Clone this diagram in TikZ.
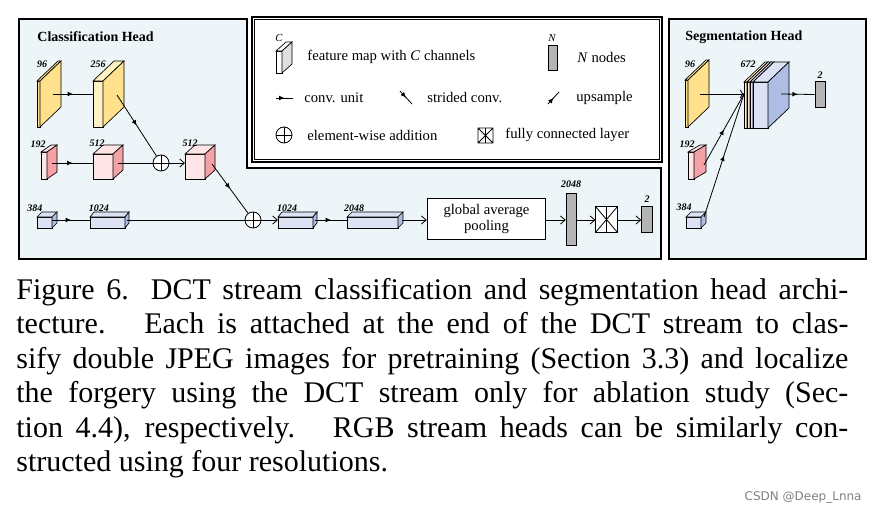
\documentclass[tikz,border=0pt]{standalone}
\usepackage{fontspec}
\setmainfont{Liberation Serif}
\newfontfamily\capfont{Liberation Serif}
\newfontfamily\wmfont{DejaVu Sans}
\usetikzlibrary{arrows.meta,decorations.markings}
\definecolor{panel}{HTML}{EDF5F8}
\definecolor{yF}{HTML}{FFF2C2}\definecolor{yS}{HTML}{FFE08C}
\definecolor{pF}{HTML}{FFE5E5}\definecolor{pS}{HTML}{F4A2A8}
\definecolor{bF}{HTML}{DCE2F4}\definecolor{bS}{HTML}{AEBDE3}
\definecolor{gbar}{HTML}{B4B4B4}
\tikzset{
 midtip/.style={decoration={markings,mark=at position 0.5 with {\arrow{Latex[length=4pt,width=3.6pt]}}},postaction={decorate}},
 opentip/.style={-{Straight Barb[length=3.5pt,width=6pt]}},
 lbl/.style={font=\bfseries\itshape\fontsize{7.5}{8}\selectfont,inner sep=0pt},
 leg/.style={font=\fontsize{11}{12}\selectfont,anchor=west,inner sep=0pt},
 ttl/.style={font=\bfseries\fontsize{10.5}{12}\selectfont,anchor=west,inner sep=0pt},
 captxt/.style={font=\capfont\fontsize{22.5}{26}\selectfont,anchor=base west,inner sep=0pt},
 plus/.style={circle,draw,minimum size=12pt,inner sep=0pt,fill=white,path picture={\draw (path picture bounding box.north)--(path picture bounding box.south) (path picture bounding box.west)--(path picture bounding box.east);}},
}
% cube: x y(top of front) w h dx dy front side
\newcommand{\mycube}[8]{%
 \filldraw[fill=#7,line width=0.5pt] (#1,#2) rectangle ({#1+#3},{#2+#4});
 \filldraw[fill=#7,line width=0.5pt] (#1,#2) -- ({#1+#5},{#2-#6}) -- ({#1+#3+#5},{#2-#6}) -- ({#1+#3},#2) -- cycle;
 \filldraw[fill=#8,line width=0.5pt] ({#1+#3},#2) -- ({#1+#3+#5},{#2-#6}) -- ({#1+#3+#5},{#2+#4-#6}) -- ({#1+#3},{#2+#4}) -- cycle;}
\begin{document}
\begin{tikzpicture}[x=0.75pt,y=-0.75pt,line width=0.6pt]
\useasboundingbox (0,0) rectangle (876,514);
% panels
\filldraw[fill=panel,line width=0.9pt] (19,19)--(247,19)--(247,168)--(661,168)--(661,259)--(19,259)--cycle;
\filldraw[fill=panel,line width=0.9pt] (669,19) rectangle (866,259);
\filldraw[fill=white,line width=0.9pt] (252,17) rectangle (662,162);
\draw[line width=0.9pt] (254.5,19.5) rectangle (659.5,159.5);
\node[ttl] (t1) at (37,37) {Classification Head};
\node[ttl] (t2) at (685,37) {Segmentation Head};
% legend
\mycube{276}{51}{6}{22}{10}{9}{white}{gray!25}
\node[lbl,font=\itshape\fontsize{8}{9}\selectfont] (lc) at (279,38) {C};
\node[leg] (l1) at (307,57) {feature map with \textit{C} channels};
\filldraw[fill=gbar] (548,45) rectangle (557,70);
\node[lbl,font=\itshape\fontsize{8}{9}\selectfont] (ln) at (552,38) {N};
\node[leg] (l2) at (577,57) {\textit{N} nodes};
\coordinate (a1) at (276,98); \coordinate (a2) at (293,98);
\draw[midtip] (a1)--(a2);
\node[leg] (l3) at (304,98) {conv. unit};
\coordinate (b1) at (400,91); \coordinate (b2) at (412,104);
\draw[midtip] (b1)--(b2);
\node[leg] (l4) at (427,98) {strided conv.};
\coordinate (c1) at (548,104); \coordinate (c2) at (559,92);
\draw[midtip] (c1)--(c2);
\node[leg] (l5) at (576,98) {upsample};
\node[plus] (lp) at (284,135) {};
\node[leg] (l6) at (307,135) {element-wise addition};
\draw (478,128) rectangle (493,143) (478,128)--(493,143) (478,143)--(493,128) (485.5,128)--(485.5,143);
\node[leg] (l7) at (505,135) {fully connected layer};
% classification cubes
\mycube{37}{81}{3}{46}{21}{20}{yS}{yS}
\mycube{93}{81}{10}{46}{21}{20}{yF}{yS}
\mycube{41}{152}{6}{27}{10}{7}{pF}{pS}
\mycube{93}{154}{20}{25}{10}{9}{pF}{pS}
\mycube{185}{154}{20}{25}{10}{9}{pF}{pS}
\mycube{37}{217}{15}{11}{5}{5}{bF}{bS}
\mycube{90}{217}{35}{11}{4}{5}{bF}{bS}
\mycube{278}{217}{35}{11}{4}{5}{bF}{bS}
\mycube{347}{217}{51}{11}{5}{5}{bF}{bS}
\node[lbl] at (42,64) {96};
\node[lbl] at (98,64) {256};
\node[lbl] at (38,144) {192};
\node[lbl] at (97,143) {512};
\node[lbl] at (190,143) {512};
\node[lbl] at (35,208) {384};
\node[lbl] at (99,208) {1024};
\node[lbl] at (287,208) {1024};
\node[lbl] at (354,208) {2048};
\node[lbl] at (571,184) {2048};
\node[lbl] at (647,199) {2};
\node[plus] (p1) at (161,163) {};
\node[plus] (p2) at (253,220) {};
\node[draw,fill=white,minimum width=89pt,minimum height=31pt,align=center,font=\fontsize{11}{12}\selectfont,inner sep=0pt] (gap) at (486.5,219) {global average\\pooling};
\node[draw,fill=gbar,minimum width=8pt,minimum height=39pt,inner sep=0pt] (bar) at (571.5,219) {};
\node[draw,fill=white,minimum width=16pt,minimum height=19pt,inner sep=0pt] (fc) at (606.5,219.5) {};
\draw (fc.north west)--(fc.south east) (fc.south west)--(fc.north east) (fc.north)--(fc.south);
\node[draw,fill=gbar,minimum width=8pt,minimum height=19pt,inner sep=0pt] (out) at (647,219.5) {};
% classification connectors
\coordinate (s1) at (53,94); \coordinate (s2) at (93,94);
\draw[midtip] (s1)--(s2);
\coordinate (u1) at (117,95);
\draw[midtip] (u1)--(p1);
\coordinate (r1) at (52,163); \coordinate (r2) at (93,163);
\draw[midtip] (r1)--(r2);
\coordinate (r3) at (118,163);
\draw (r3)--(p1.west);
\coordinate (r4) at (185,163);
\draw[opentip] (p1.east)--(r4);
\coordinate (u2) at (212,164);
\draw[midtip] (u2)--(p2);
\coordinate (q1) at (52,220); \coordinate (q2) at (90,220);
\draw[midtip] (q1)--(q2);
\coordinate (q3) at (127,220);
\draw (q3)--(p2.west);
\coordinate (q4) at (278,220);
\draw[opentip] (p2.east)--(q4);
\coordinate (q5) at (315,220); \coordinate (q6) at (347,220);
\draw[midtip] (q5)--(q6);
\coordinate (q7) at (402,220);
\draw[opentip] (q7)--(gap.west|-q7);
\draw[opentip] (gap.east|-q7)--(bar.west|-q7);
\draw[opentip] (bar.east|-q7)--(fc.west|-q7);
\draw[opentip] (fc.east|-q7)--(out.west|-q7);
% segmentation
\mycube{685}{80}{3}{47}{21}{20}{yS}{yS}
\mycube{688}{152}{6}{27}{12}{7}{pF}{pS}
\mycube{686}{217}{15}{11}{5}{5}{bF}{bS}
\mycube{744}{82}{3}{46}{21}{20}{yF}{yS}
\mycube{747}{82}{3}{46}{21}{20}{pF}{pS}
\mycube{750}{82}{3}{46}{21}{20}{bF}{bS}
\mycube{753}{82}{15}{46}{21}{20}{bF}{bS}
\node[draw,fill=gbar,minimum width=7.5pt,minimum height=19pt,inner sep=0pt] (sout) at (820,94.5) {};
\node[lbl] at (690,64) {96};
\node[lbl] at (687,144) {192};
\node[lbl] at (684,207) {384};
\node[lbl] at (748,64) {672};
\node[lbl] at (820,75) {2};
\coordinate (g0) at (744,94);
\coordinate (g1) at (700,94); \draw[-{To[length=3pt]}] (g1)--(g0);
\coordinate (g2) at (704,165); \draw[midtip] (g2)--(g0);
\coordinate (g3) at (704,217); \draw[midtip] (g3)--(g0);
\coordinate (g4) at (781,94); \draw[midtip] (g4)--(sout.west);
% caption
\node[captxt] at (16,299) {\makebox[624pt][s]{Figure 6. DCT stream classification and segmentation head archi-}};
\node[captxt] at (16,333.5) {\makebox[624pt][s]{tecture. \ Each is attached at the end of the DCT stream to clas-}};
\node[captxt] at (16,368) {\makebox[624pt][s]{sify double JPEG images for pretraining (Section 3.3) and localize}};
\node[captxt] at (16,402.5) {\makebox[624pt][s]{the forgery using the DCT stream only for ablation study (Sec-}};
\node[captxt] at (16,437) {\makebox[624pt][s]{tion 4.4), respectively. \ RGB stream heads can be similarly con-}};
\node[captxt] at (16,471.5) {structed using four resolutions.};
\node[font=\wmfont\fontsize{9}{10}\selectfont,text=gray,anchor=east,inner sep=0pt] (wm) at (862,497) {CSDN @Deep\_Lnna};
\end{tikzpicture}
\end{document}
